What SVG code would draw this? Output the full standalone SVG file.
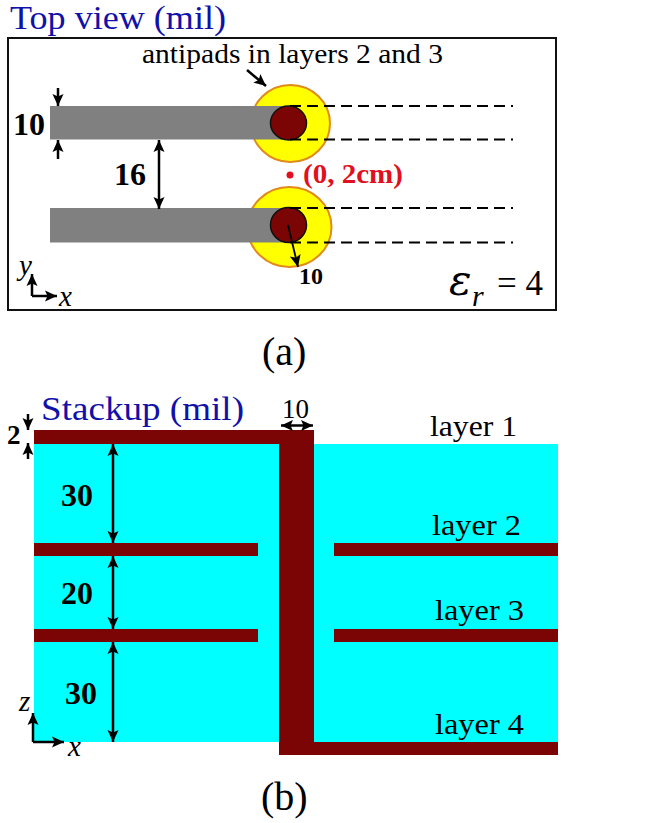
<svg xmlns="http://www.w3.org/2000/svg" width="656" height="823" viewBox="0 0 656 823">
<defs>
<marker id="ah" markerUnits="userSpaceOnUse" markerWidth="14" markerHeight="14" refX="12" refY="6.500" orient="auto-start-reverse"><path d="M0 1 L12 6.500 L0 12 L2.500 6.500 Z" fill="#000"/></marker>
</defs>
<style>
text{font-family:"Liberation Serif","Times New Roman",serif;fill:#000}
.blue{fill:#1111aa;font-size:33px}
.b{font-weight:bold;font-size:32px}
.s{font-size:29px}
.i{font-style:italic}
.cap{font-size:40px}
.dim{stroke:#000;stroke-width:2.500;fill:none;marker-end:url(#ah)}
.dim2{stroke:#000;stroke-width:2.500;fill:none;marker-end:url(#ah);marker-start:url(#ah)}
.dash{stroke:#000;stroke-width:2;stroke-dasharray:11 6;fill:none}
.pad{fill:#ffff00;stroke:#e08a1a;stroke-width:2}
.tr{fill:#808080}
.via{fill:#7b0505;stroke:#111;stroke-width:1.500}
.cu{fill:#7b0505}
.die{fill:#00ffff}
</style>
<rect width="656" height="823" fill="#fff"/>
<g id="top-view">
<rect x="8" y="38" width="548" height="272" fill="#fff" stroke="#111" stroke-width="2"/>
<text class="blue" x="10" y="29" textLength="216" lengthAdjust="spacingAndGlyphs">Top view (mil)</text>
<text x="142" y="63" font-size="27" textLength="301" lengthAdjust="spacingAndGlyphs">antipads in layers 2 and 3</text>
</g>
<g id="pad-upper"><ellipse class="pad" cx="290.5" cy="123.5" rx="39.5" ry="38.5"/></g>
<g id="pad-lower"><ellipse class="pad" cx="289.5" cy="227" rx="42" ry="40"/></g>
<g id="trace-upper"><rect class="tr" x="50" y="106" width="232" height="33.5"/></g>
<g id="trace-lower"><rect class="tr" x="50" y="208" width="232" height="34.5"/></g>
<g id="via-upper"><ellipse class="via" cx="288.5" cy="123" rx="18" ry="17"/></g>
<g id="via-lower"><ellipse class="via" cx="288.5" cy="225" rx="18" ry="17.5"/></g>
<g id="stackup">
<rect class="die" x="34" y="444" width="524" height="298"/>
<rect class="cu" x="34" y="430" width="280" height="14"/>
<rect class="cu" x="279" y="430" width="35" height="325"/>
<rect class="cu" x="279" y="742" width="279" height="13"/>
<rect class="cu" x="34" y="543" width="224" height="13"/>
<rect class="cu" x="334" y="543" width="224" height="13"/>
<rect class="cu" x="34" y="629" width="224" height="13"/>
<rect class="cu" x="334" y="629" width="224" height="13"/>
</g>
<g id="connectors">
<path class="dash" d="M290 106H513M290 139.500H513M290 208H513M290 242.500H513"/>
<path class="dim" d="M247 70L266 86"/>
<path class="dim" d="M58 88V106"/>
<path class="dim" d="M58 159V140"/>
<path class="dim2" d="M159 140V209"/>
<path class="dim" d="M288 225L298 267" style="stroke-width:1.800"/>
<path class="dim" d="M32 296V274"/>
<path class="dim" d="M32 296H57"/>
<path class="dim" d="M28 414V430"/>
<path class="dim" d="M28 459V443"/>
<path class="dim2" d="M281 425.500H313"/>
<path class="dim2" d="M113 444V543"/>
<path class="dim2" d="M113 556V629"/>
<path class="dim2" d="M113 642V742"/>
<path class="dim" d="M33 742V713"/>
<path class="dim" d="M33 742H64"/>
</g>
<g id="top-labels">
<text class="b" x="13" y="135">10</text>
<text class="b" x="114" y="185">16</text>
<circle cx="290" cy="175" r="3.500" fill="#e01020"/>
<text x="303" y="183" font-size="27" font-weight="bold" textLength="100" lengthAdjust="spacingAndGlyphs" style="fill:#e01020">(0, 2cm)</text>
<text x="299" y="284" font-size="24" font-weight="bold">10</text>
<text x="19" y="275" font-size="29" class="i">y</text>
<text x="59" y="306" font-size="29" class="i">x</text>
<text x="449" y="295" font-size="42" class="i" style="font-family:'DejaVu Serif','Liberation Serif',serif">ε</text>
<text x="472" y="306" font-size="30" class="i">r</text>
<text x="497" y="295" font-size="35">= 4</text>
</g>
<g id="caption-a"><text class="cap" x="262" y="365">(a)</text></g>
<g id="stackup-labels">
<text class="blue" x="41" y="420" textLength="203" lengthAdjust="spacingAndGlyphs">Stackup (mil)</text>
<text x="282" y="418" font-size="27">10</text>
<text class="b" x="7" y="444" style="font-size:27px">2</text>
<text class="b" x="61" y="506">30</text>
<text class="b" x="61" y="604">20</text>
<text class="b" x="65" y="704">30</text>
<text class="s" x="430" y="436" textLength="87" lengthAdjust="spacingAndGlyphs">layer 1</text>
<text class="s" x="432" y="535" textLength="89" lengthAdjust="spacingAndGlyphs">layer 2</text>
<text class="s" x="435" y="620" textLength="89" lengthAdjust="spacingAndGlyphs">layer 3</text>
<text class="s" x="435" y="734" textLength="89" lengthAdjust="spacingAndGlyphs">layer 4</text>
<text x="19" y="711" font-size="29" class="i">z</text>
<text x="68" y="756" font-size="29" class="i">x</text>
</g>
<g id="caption-b"><text class="cap" x="261" y="810">(b)</text></g>
</svg>
